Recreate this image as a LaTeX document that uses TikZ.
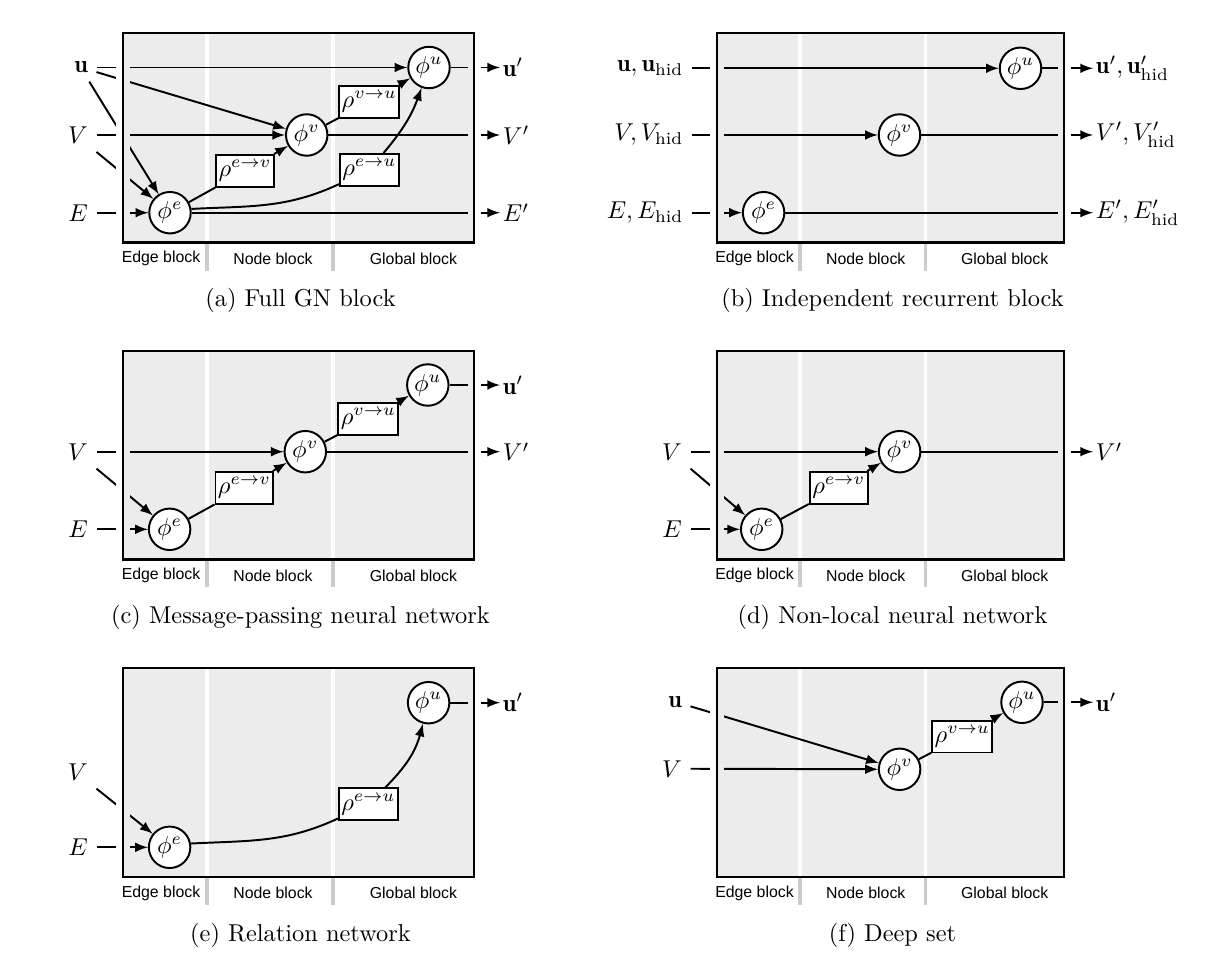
\documentclass[tikz,border=0pt]{standalone}
\usepackage{fontspec}
\newfontfamily\blockfont{Liberation Sans}
\newcommand{\phisize}{17pt}
\newcommand{\gnback}[6]{%
  \fill[gray!15] (#1,-#5) rectangle (#4,-#6);
  \draw[white, line width=1.6pt] (#2,-#5) -- (#2,-#6) (#3,-#5) -- (#3,-#6);
}
\newcommand{\gnframe}[8]{%
  \fill[white] (#1-7,-#5) rectangle (#1,-#6);
  \fill[white] (#4,-#5) rectangle (#4+7,-#6);
  \fill[gray!15] (#1,-#5) rectangle (#1+6.5,-#6);
  \fill[gray!15] (#4-6.5,-#5) rectangle (#4,-#6);
  \draw[gray!40, line width=1.6pt] (#2,-#6) -- (#2,-#6-28) (#3,-#6) -- (#3,-#6-28);
  \draw[very thick] (#1,-#5) rectangle (#4,-#6);
  \node (edge#8) at ({(#1+#2)/2-4},-#6-16) [blocklabel] {Edge block};
  \node (node#8) at ({(#2+#3)/2+3},-#6-16) [blocklabel] {Node block};
  \node (glob#8) at ({(#3+#4)/2+10},-#6-16) [blocklabel] {Global block};
  \node (cap#8) at ({(#1+#4)/2+2},-#6-58) {#7};
}

\begin{document}
\begin{tikzpicture}[x=0.41pt, y=0.41pt,
    fn/.style={draw, circle, thick, fill=white, minimum size=\phisize, inner sep=0pt},
    agg/.style={draw, rectangle, thick, fill=white, minimum width=23.4pt, minimum height=13.1pt, inner sep=1pt},
    inlabel/.style={anchor=east},
    outlabel/.style={anchor=west, inner sep=1pt},
    blocklabel/.style={font=\blockfont\fontsize{6.5}{8}\selectfont},
    conn/.style={thick, -latex}]

    \useasboundingbox (0,0) rectangle (1230,-966);

    % (a)
    \gnback{123}{207}{333}{474}{33}{242.7}
      \node (xua) at (96.5,-67.5) [inlabel] {$\mathbf{u}$};
      \node (xva) at (96.5,-135) [inlabel] {$V$};
      \node (xea) at (96.5,-212.7) [inlabel] {$E$};
      \node (ea) at (170,-212.7) [fn] {$\phi^e$};
      \node (va) at (306.7,-135) [fn] {$\phi^v$};
      \node (ua) at (429,-67.5) [fn] {$\phi^u$};
      \node (reva) at (245,-171) [agg] {$\rho^{e\rightarrow v}$};
      \node (rvua) at (369.3,-101.7) [agg] {$\rho^{v\rightarrow u}$};
      \node (reua) at (369.3,-170) [agg] {$\rho^{e\rightarrow u}$};
      \node (yua) at (500,-67.5) [outlabel] {$\mathbf{u}'$};
      \node (yva) at (500,-135) [outlabel] {$V'$};
      \node (yea) at (500,-212.7) [outlabel] {$E'$};
      \draw[conn] (xua) to (ua);
      \draw[conn] (xua) to (va);
      \draw[conn] (xua.-60) to (ea);
      \draw[conn] (xva) to (va);
      \draw[conn] (xva.south east) to (ea);
      \draw[conn] (xea) to (ea);
      \draw[thick] (ea) to (reva);
      \draw[conn] (reva) to (va);
      \draw[thick] (va) to (rvua);
      \draw[conn] (rvua) to (ua);
      \draw[thick] (ea.10) to[out=3,in=205] (reua);
      \draw[conn] (reua) to[out=50,in=250] (ua);
      \draw[conn] (ua) to (ua -| yua.west);
      \draw[conn] (va) to (va -| yva.west);
      \draw[conn] (ea) to (ea -| yea.west);
    \gnframe{123}{207}{333}{474}{33}{242.7}{(a) Full GN block}{a}

    % (b)
    \gnback{717}{800}{925.5}{1064}{33}{242.7}
      \node (xub) at (692,-68.3) [inlabel] {$\mathbf{u},\mathbf{u}_{\mathrm{hid}}$};
      \node (xvb) at (692,-135) [inlabel] {$V,V_{\mathrm{hid}}$};
      \node (xeb) at (692,-212.7) [inlabel] {$E,E_{\mathrm{hid}}$};
      \node (eb) at (763.6,-212.7) [fn] {$\phi^e$};
      \node (vb) at (899.5,-135) [fn] {$\phi^v$};
      \node (ub) at (1020.5,-68.3) [fn] {$\phi^u$};
      \node (yub) at (1093,-68.3) [outlabel] {$\mathbf{u}',\mathbf{u}'_{\mathrm{hid}}$};
      \node (yvb) at (1093,-135) [outlabel] {$V',V'_{\mathrm{hid}}$};
      \node (yeb) at (1093,-212.7) [outlabel] {$E',E'_{\mathrm{hid}}$};
      \draw[conn] (xub) to (ub);
      \draw[conn] (xvb) to (vb);
      \draw[conn] (xeb) to (eb);
      \draw[conn] (ub) to (ub -| yub.west);
      \draw[conn] (vb) to (vb -| yvb.west);
      \draw[conn] (eb) to (eb -| yeb.west);
    \gnframe{717}{800}{925.5}{1064}{33}{242.7}{(b) Independent recurrent block}{b}

    % (c)
    \gnback{123}{207}{333}{474}{351}{559.5}
      \node (xvc) at (96.5,-451.7) [inlabel] {$V$};
      \node (xec) at (96.5,-529.3) [inlabel] {$E$};
      \node (ec) at (169.6,-529.3) [fn] {$\phi^e$};
      \node (vc) at (305.3,-451.7) [fn] {$\phi^v$};
      \node (uc) at (427.8,-385) [fn] {$\phi^u$};
      \node (revc) at (244.4,-488) [agg] {$\rho^{e\rightarrow v}$};
      \node (rvuc) at (368.4,-419) [agg] {$\rho^{v\rightarrow u}$};
      \node (yuc) at (500,-385) [outlabel] {$\mathbf{u}'$};
      \node (yvc) at (500,-451.7) [outlabel] {$V'$};
      \draw[conn] (xvc) to (vc);
      \draw[conn] (xvc.south east) to (ec);
      \draw[conn] (xec) to (ec);
      \draw[thick] (ec) to (revc);
      \draw[conn] (revc) to (vc);
      \draw[thick] (vc) to (rvuc);
      \draw[conn] (rvuc) to (uc);
      \draw[conn] (uc) to (uc -| yuc.west);
      \draw[conn] (vc) to (vc -| yvc.west);
    \gnframe{123}{207}{333}{474}{351}{559.5}{(c) Message-passing neural network}{c}

    % (d)
    \gnback{717}{800}{925.5}{1064}{351}{559.5}
      \node (xvd) at (690.5,-451.7) [inlabel] {$V$};
      \node (xed) at (690.5,-529.3) [inlabel] {$E$};
      \node (ed) at (761.7,-529.3) [fn] {$\phi^e$};
      \node (vd) at (899.6,-451.7) [fn] {$\phi^v$};
      \node (revd) at (838.7,-488) [agg] {$\rho^{e\rightarrow v}$};
      \node (yvd) at (1093,-451.7) [outlabel] {$V'$};
      \draw[conn] (xvd) to (vd);
      \draw[conn] (xvd.south east) to (ed);
      \draw[conn] (xed) to (ed);
      \draw[thick] (ed) to (revd);
      \draw[conn] (revd) to (vd);
      \draw[conn] (vd) to (vd -| yvd.west);
    \gnframe{717}{800}{925.5}{1064}{351}{559.5}{(d) Non-local neural network}{d}

    % (e)
    \gnback{123}{207}{333}{474}{668}{877}
      \node (xve) at (96.5,-771.7) [inlabel] {$V$};
      \node (xee) at (96.5,-847.3) [inlabel] {$E$};
      \node (ee) at (169.6,-847.3) [fn] {$\phi^e$};
      \node (ue) at (428.6,-702.7) [fn] {$\phi^u$};
      \node (reue) at (368.4,-804.3) [agg] {$\rho^{e\rightarrow u}$};
      \node (yue) at (500,-702.7) [outlabel] {$\mathbf{u}'$};
      \draw[conn] (xve.south east) to (ee);
      \draw[conn] (xee) to (ee);
      \draw[thick] (ee.10) to[out=3,in=205] (reue);
      \draw[conn] (reue) to[out=45,in=255] (ue);
      \draw[conn] (ue) to (ue -| yue.west);
    \gnframe{123}{207}{333}{474}{668}{877}{(e) Relation network}{e}

    % (f)
    \gnback{717}{800}{925.5}{1064}{668}{877}
      \node (xuf) at (690.5,-701.7) [inlabel] {$\mathbf{u}$};
      \node (xvf) at (690.5,-768.7) [inlabel] {$V$};
      \node (vf) at (899.6,-769.3) [fn] {$\phi^v$};
      \node (uf) at (1022,-702.3) [fn] {$\phi^u$};
      \node (rvuf) at (962.3,-736.5) [agg] {$\rho^{v\rightarrow u}$};
      \node (yuf) at (1093,-702.3) [outlabel] {$\mathbf{u}'$};
      \draw[conn] (xuf) to (vf);
      \draw[conn] (xvf) to (vf);
      \draw[thick] (vf) to (rvuf);
      \draw[conn] (rvuf) to (uf);
      \draw[conn] (uf) to (uf -| yuf.west);
    \gnframe{717}{800}{925.5}{1064}{668}{877}{(f) Deep set}{f}

\end{tikzpicture}
\end{document}
